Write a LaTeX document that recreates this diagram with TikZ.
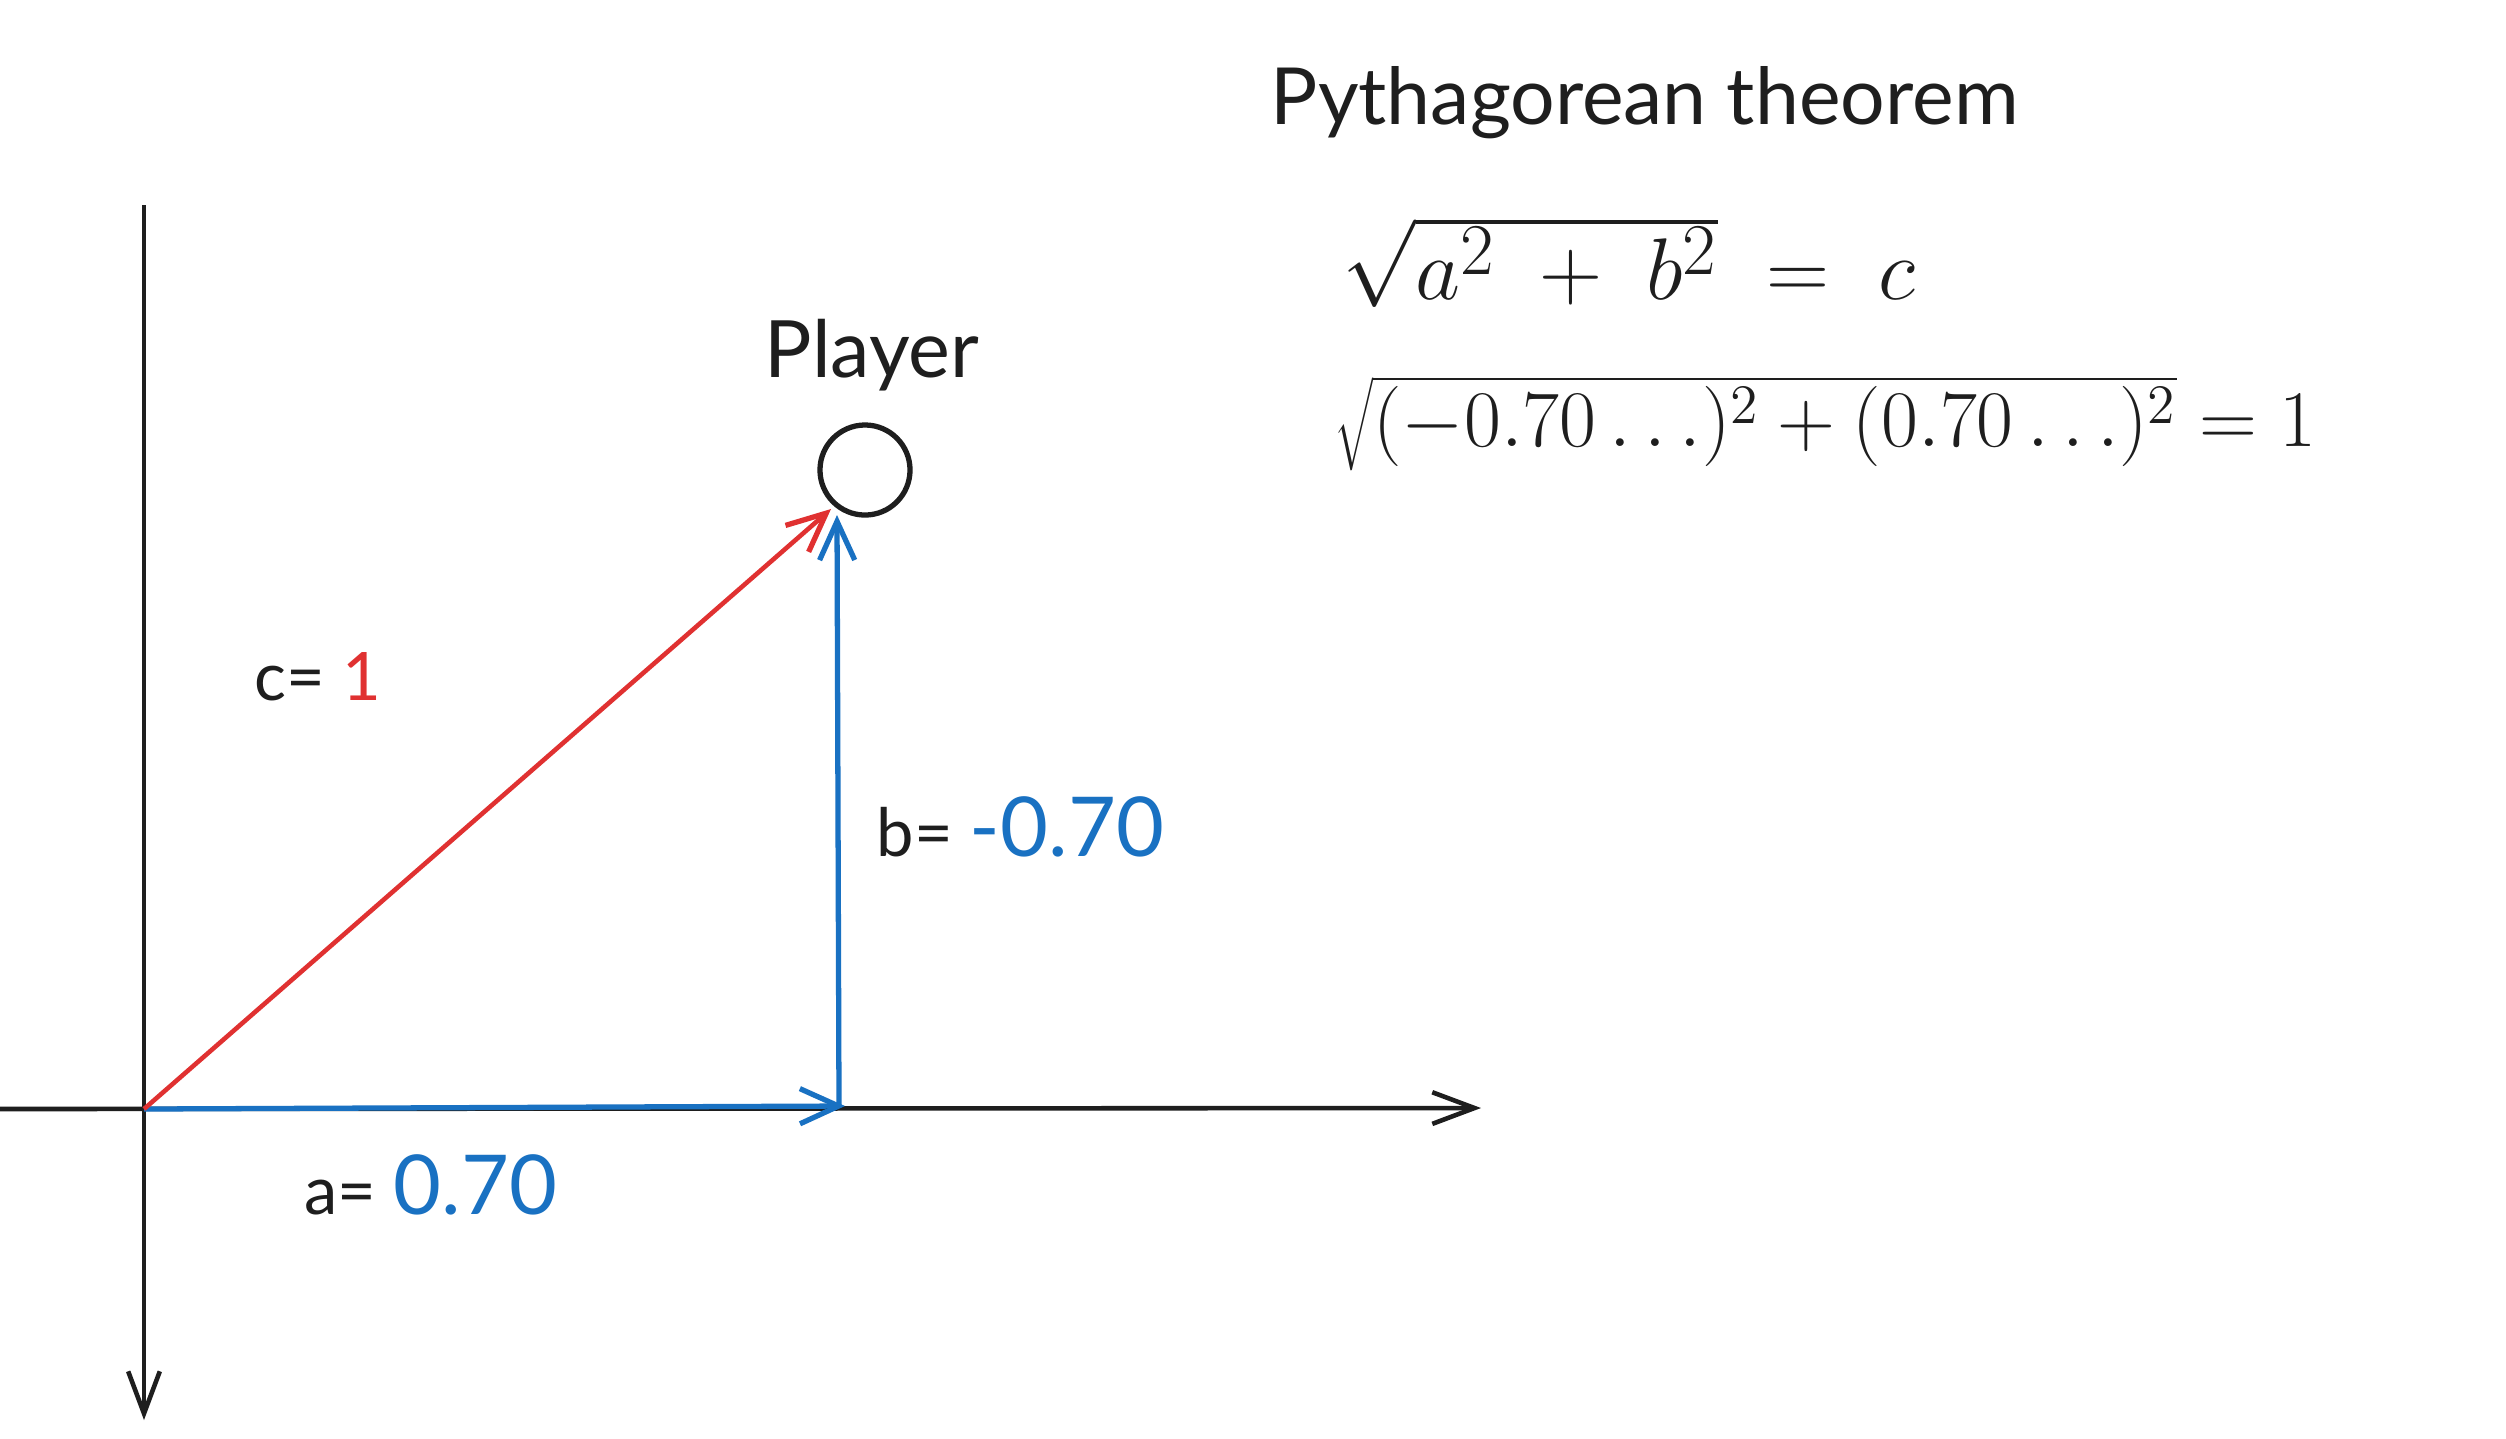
\documentclass[tikz,border=0pt]{standalone}
\usepackage{fontspec}
\setmainfont{Lato}
\usetikzlibrary{arrows.meta}
\definecolor{ink}{HTML}{1E1E1E}
\definecolor{xred}{HTML}{E03131}
\definecolor{xblue}{HTML}{1971C2}
\begin{document}
\begin{tikzpicture}[x=0.01cm,y=-0.01cm,
  axisline/.style={draw=ink, line width=1.3pt, -{Straight Barb[length=12pt,width=9pt,line width=1.3pt]}},
  vecline/.style={line width=1.5pt, -{Straight Barb[length=11pt,width=10pt,line width=1.5pt]}},
  lbl/.style={text=ink, inner sep=0pt, font=\fontsize{19}{23}\selectfont},
  bigtext/.style={text=ink, inner sep=0pt, font=\fontsize{22.4}{26}\selectfont}]
\useasboundingbox[fill=white] (0,0) rectangle (2506,1438);

% axes
\coordinate (O) at (144,1109);
\coordinate (xl) at (0,1109);
\coordinate (xr) at (1481,1108);
\coordinate (yt) at (144,205);
\coordinate (yb) at (144,1420);
\draw[axisline] (xl) -- (xr);
\draw[axisline] (yt) -- (yb);

% player
\node[draw=ink, line width=1.5pt, circle, minimum size=9mm, inner sep=0pt] (player) at (865,470) {};
\node[text=ink, inner sep=0pt, font=\fontsize{22.5}{26}\selectfont, anchor=base] (ptext) at (872,377) {Player};

% vectors
\coordinate (ha) at (845,1106);
\coordinate (vb) at (839,1106);
\coordinate (tipb) at (837,515);
\coordinate (tipr) at (831,509);
\draw[vecline, draw=xblue] (O) -- (ha);
\draw[vecline, draw=xblue] (vb) -- (tipb);
\draw[vecline, draw=xred, line width=1.3pt] (O) -- (tipr);

% labels
\node[lbl, anchor=base west] (clabel) at (254,700) {c= \textcolor{xred}{1}};
\node[lbl, anchor=base west] (blabel) at (876,856) {b= \textcolor{xblue}{\fontsize{23.5}{27}\selectfont -0.70}};
\node[lbl, anchor=base west] (alabel) at (304,1214) {a= \textcolor{xblue}{\fontsize{23.5}{27}\selectfont 0.70}};

% theorem
\node[bigtext, anchor=base west] (title) at (1270,124) {Pythagorean theorem};
\node[text=ink, inner sep=0pt, anchor=west, font=\fontsize{31}{35}\selectfont] (f1) at (1342,262) {$\sqrt{a^2\;+\;b^2}\;=\;c$};
\node[text=ink, inner sep=0pt, anchor=west, font=\fontsize{22.3}{27}\selectfont] (f2) at (1334,424) {\scalebox{1.1}{$\sqrt{(-0.70\ldots)^2+(0.70\ldots)^2}=1$}};
\end{tikzpicture}
\end{document}
